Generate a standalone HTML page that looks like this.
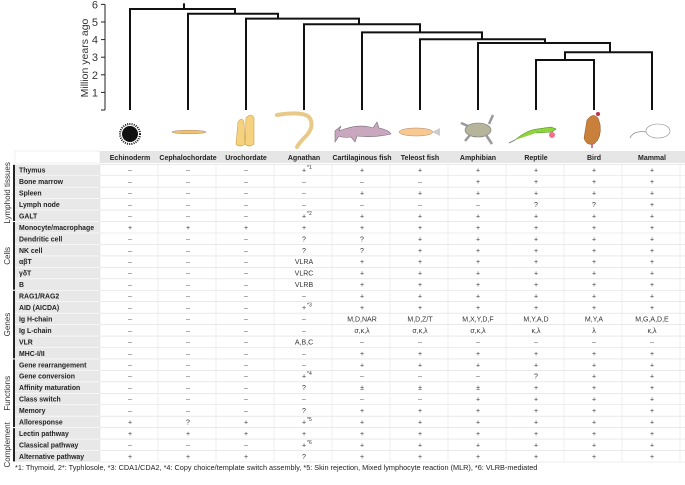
<!DOCTYPE html>
<html><head><meta charset="utf-8">
<style>
body{margin:0;background:#fff;width:685px;height:480px;overflow:hidden;font-family:"Liberation Sans",sans-serif}
svg text{font-family:"Liberation Sans","DejaVu Sans",sans-serif}
</style></head>
<body>
<svg id="fig" width="685" height="480" viewBox="0 0 685 480" xmlns="http://www.w3.org/2000/svg">
<g id="tree"></g>
<g id="animals">
 <g><circle cx="130" cy="134" r="8" fill="#111"/><circle cx="130" cy="134" r="10" fill="none" stroke="#111" stroke-width="2" stroke-dasharray="1 1.2"/></g>
 <ellipse cx="189" cy="132" rx="17" ry="1.8" fill="#f2c26a" stroke="#a88" stroke-width="0.5"/>
 <g fill="#f6d27e" stroke="#c9a050" stroke-width="0.6"><path d="M238 122 q4 -6 6 0 l1 22 q-5 4 -9 0 z"/><path d="M246 118 q5 -6 8 0 l0 26 q-5 4 -9 0 z"/></g>
 <path d="M277 115 q25 -4 32 2 q6 8 -2 18 q-8 8 -10 12" fill="none" stroke="#e9c98a" stroke-width="4" stroke-linecap="round"/>
 <g><path d="M335 131 l6 -5 l-2 5 q20 -8 34 -3 l4 -6 l2 6 q10 2 12 6 q-18 4 -34 2 l-2 6 l-4 -5 q-8 1 -12 -1 l-4 6 z" fill="#c9a8bf" stroke="#7a6a78" stroke-width="0.6"/></g>
 <g><ellipse cx="416" cy="132" rx="17" ry="4" fill="#f8c890" stroke="#b08a70" stroke-width="0.5"/><path d="M432 132 l8 -4 l0 8 z" fill="#ccc"/></g>
 <g><ellipse cx="478" cy="130" rx="13" ry="7" fill="#b6b49a" stroke="#777" stroke-width="0.6"/><path d="M468 126 l-7 -3 M489 124 l4 -9 M470 135 l-5 6 M486 135 l6 9" stroke="#999" stroke-width="2.5"/></g>
 <g><path d="M515 140 q12 -10 22 -11 l14 -2 l5 2 l-4 3 l-16 1" fill="#8ed43a" stroke="#4a8a2a" stroke-width="0.6"/><path d="M515 140 q-4 2 -6 3" stroke="#888" stroke-width="1" fill="none"/><circle cx="552" cy="135" r="3" fill="#f07090"/></g>
 <g><path d="M587 120 q6 -8 11 -2 l2 6 q2 14 -6 20 q-8 2 -10 -6 z" fill="#c8803a" stroke="#8a5520" stroke-width="0.5"/><circle cx="598" cy="114" r="2" fill="#c0304a"/><path d="M592 144 l0 4" stroke="#c05070" stroke-width="1.5"/></g>
 <g><ellipse cx="658" cy="131" rx="12" ry="7" fill="#fff" stroke="#888" stroke-width="0.6"/><path d="M646 132 q-12 -2 -16 6" fill="none" stroke="#888" stroke-width="0.8"/></g>
</g>
<g id="table"></g>
<text x="15" y="470" font-size="7.3" fill="#222">*1: Thymoid, 2*: Typhlosole, *3: CDA1/CDA2, *4: Copy choice/template switch assembly, *5: Skin rejection, Mixed lymphocyte reaction (MLR), *6: VLRB-mediated</text>
</svg>
<script>
const NS="http://www.w3.org/2000/svg";
// ---- data ----
const taxa=["Echinoderm","Cephalochordate","Urochordate","Agnathan","Cartilaginous fish","Teleost fish","Amphibian","Reptile","Bird","Mammal"];
const yTicks=[0,1,2,3,4,5,6];
// internal node heights (million years ago axis units): root, n2..n9
const nodeHeights=[5.74,5.47,5.19,4.87,4.41,4.02,3.81,3.28,2.84];
const rootStemTop=6.06;
const rowLabels=["Thymus","Bone marrow","Spleen","Lymph node","GALT","Monocyte/macrophage","Dendritic cell","NK cell","αβT","γδT","B","RAG1/RAG2","AID (AICDA)","Ig H-chain","Ig L-chain","VLR","MHC-I/II","Gene rearrangement","Gene conversion","Affinity maturation","Class switch","Memory","Alloresponse","Lectin pathway","Classical pathway","Alternative pathway"];
const groups=[["Lymphoid tissues",0,4],["Cells",5,10],["Genes",11,16],["Functions",17,22],["Complement",23,25]];
const P="+",M="–",Q="?";
const cells=[
[M,M,M,"+*1",P,P,P,P,P,P],
[M,M,M,M,M,M,P,P,P,P],
[M,M,M,M,P,P,P,P,P,P],
[M,M,M,M,M,M,M,Q,Q,P],
[M,M,M,"+*2",P,P,P,P,P,P],
[P,P,P,P,P,P,P,P,P,P],
[M,M,M,Q,Q,P,P,P,P,P],
[M,M,M,Q,Q,P,P,P,P,P],
[M,M,M,"VLRA",P,P,P,P,P,P],
[M,M,M,"VLRC",P,P,P,P,P,P],
[M,M,M,"VLRB",P,P,P,P,P,P],
[M,M,M,M,P,P,P,P,P,P],
[M,M,M,"+*3",P,P,P,P,P,P],
[M,M,M,M,"M,D,NAR","M,D,Z/T","M,X,Y,D,F","M,Y,A,D","M,Y,A","M,G,A,D,E"],
[M,M,M,M,"σ,κ,λ","σ,κ,λ","σ,κ,λ","κ,λ","λ","κ,λ"],
[M,M,M,"A,B,C",M,M,M,M,M,M],
[M,M,M,M,P,P,P,P,P,P],
[M,M,M,M,P,P,P,P,P,P],
[M,M,M,"+*4",M,M,M,Q,P,P],
[M,M,M,Q,"±","±","±",P,P,P],
[M,M,M,M,M,M,P,P,P,P],
[M,M,M,Q,P,P,P,P,P,P],
[P,Q,P,"+*5",P,P,P,P,P,P],
[P,P,P,P,P,P,P,P,P,P],
[M,M,M,"+*6",P,P,P,P,P,P],
[P,P,P,Q,P,P,P,P,P,P]];
// ---- scales ----
const colX=i=>130+58*i;
const yMya=v=>110-v*17.6;
const rowY=r=>170+r*11.45;
function el(tag,attrs,parent,txt){const e=document.createElementNS(NS,tag);for(const k in attrs)e.setAttribute(k,attrs[k]);if(txt!==undefined)e.textContent=txt;parent.appendChild(e);return e;}
// ---- tree ----
const tree=document.getElementById("tree");
const ax=el("line",{x1:105,y1:yMya(6),x2:105,y2:yMya(0),stroke:"#222","stroke-width":1},tree);


yTicks.forEach(t=>{
 const tk=el("line",{x1:101,x2:105,y1:yMya(t),y2:yMya(t),stroke:"#222","stroke-width":1},tree);
 
 
 if(t>0){const tl=el("text",{x:98,y:yMya(t)+4,"font-size":11,"text-anchor":"end",fill:"#333"},tree,String(t));
 
 }
});
const yt=el("text",{transform:"translate(88,58) rotate(-90)","font-size":10.5,"text-anchor":"middle",fill:"#333"},tree,"Million years ago");


const topo=[[0,"n1"],[1,"n2"],[2,"n3"],[3,"n4"],[4,"n5"],[5,"n6"],[6,"n7"],["n8",9],[7,8]];
const stemX=[184,235,278,359,420,482,545,610,565];
function childX(c){return typeof c==="number"?colX(c):stemX[+c.slice(1)];}
function childY(c){return typeof c==="number"?yMya(0):yMya(nodeHeights[+c.slice(1)]);}
topo.forEach((n,k)=>{
 const y=yMya(nodeHeights[k]);
 const d=`M${childX(n[0])},${childY(n[0])} V${y} H${childX(n[1])} V${childY(n[1])}`;
 const p=el("path",{d:d,fill:"none",stroke:"#111","stroke-width":2},tree);
 
 
});
const rs=el("line",{x1:stemX[0],x2:stemX[0],y1:yMya(rootStemTop),y2:yMya(nodeHeights[0]),stroke:"#111","stroke-width":2},tree);


// ---- table ----
const tb=document.getElementById("table");
const top0=rowY(0)-5.7, bot=rowY(25)+5.7;
el("rect",{x:15,y:151,width:670,height:12,fill:"#e6e6e6"},tb);
el("rect",{x:15,y:151,width:85,height:12,fill:"#fff",stroke:"#e0e0e0","stroke-width":0.5},tb);
el("rect",{x:15,y:top0,width:85,height:bot-top0,fill:"#e8e8e8"},tb);
taxa.forEach((t,i)=>{
 const h=el("text",{x:colX(i),y:160,"font-size":7,"font-weight":"bold","text-anchor":"middle",fill:"#222"},tb,t);
 
 
});
for(let r=0;r<=26;r++){
 el("line",{x1:100,x2:685,y1:rowY(r)-5.7,y2:rowY(r)-5.7,stroke:"#dcdcdc","stroke-width":0.6},tb);
 el("line",{x1:15,x2:100,y1:rowY(r)-5.7,y2:rowY(r)-5.7,stroke:"#fff","stroke-width":0.6},tb);
}
for(let i=0;i<=10;i++) el("line",{x1:100+58*i,x2:100+58*i,y1:top0,y2:bot,stroke:"#e4e4e4","stroke-width":0.6},tb);
rowLabels.forEach((lab,r)=>{
 const t=el("text",{x:19,y:rowY(r)+2.6,"font-size":6.9,"font-weight":"bold",fill:"#222"},tb,lab);
 
 
 cells[r].forEach((v,c)=>{
  let txt=v,sup=null;
  if(v.indexOf("*")>0){txt=v.split("*")[0];sup="*"+v.split("*")[1];}
  const ct=el("text",{x:colX(c),y:rowY(r)+2.6,"font-size":7,"text-anchor":"middle",fill:v===M?"#555":"#333"},tb,txt);
  
  
  if(sup){const s=el("text",{x:colX(c)+3,y:rowY(r)-1,"font-size":5,fill:"#333"},tb,sup);
  
  }
 });
});
groups.forEach(g=>{
 const y1=rowY(g[1])-5.2,y2=rowY(g[2])+5.2;
 const b=el("rect",{x:13,y:y1,width:2,height:y2-y1,fill:"#222"},tb);
 
 
 const gl=el("text",{transform:`translate(10,${(y1+y2)/2}) rotate(-90)`,"font-size":8,"text-anchor":"middle",fill:"#333"},tb,g[0]);
 
 
});
</script>
</body></html>
